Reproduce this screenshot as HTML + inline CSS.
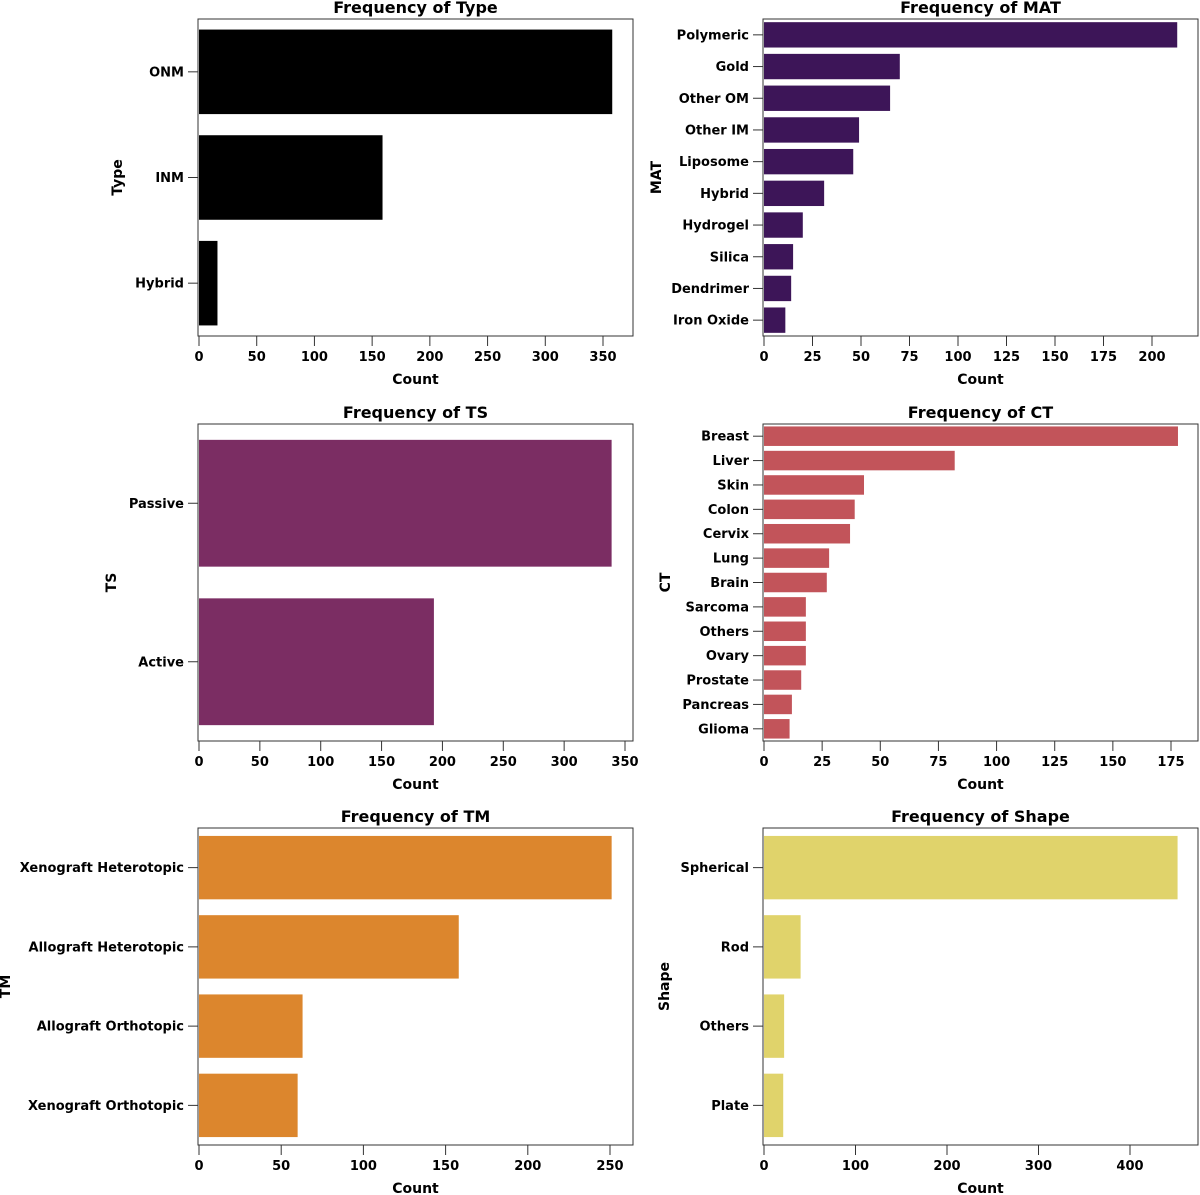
<!DOCTYPE html>
<html><head><meta charset="utf-8"><style>
body{margin:0;background:#fff}
svg{display:block;font-family:"DejaVu Sans","Liberation Sans",sans-serif}
.tick{font-size:13px;font-weight:bold;fill:#000}
.title{font-size:16px;font-weight:bold}
.lab{font-size:14px;font-weight:bold}
</style></head><body>
<svg id="chart" width="1200" height="1195" viewBox="0 0 1200 1195" xmlns="http://www.w3.org/2000/svg"></svg>
<script>
const typeCats=["ONM","INM","Hybrid"];
const typeVals=[358,159,16];
const typeTicks=[0,50,100,150,200,250,300,350];
const matCats=["Polymeric","Gold","Other OM","Other IM","Liposome","Hybrid","Hydrogel","Silica","Dendrimer","Iron Oxide"];
const matVals=[213,70,65,49,46,31,20,15,14,11];
const matTicks=[0,25,50,75,100,125,150,175,200];
const tsCats=["Passive","Active"];
const tsVals=[339,193];
const tsTicks=[0,50,100,150,200,250,300,350];
const ctCats=["Breast","Liver","Skin","Colon","Cervix","Lung","Brain","Sarcoma","Others","Ovary","Prostate","Pancreas","Glioma"];
const ctVals=[178,82,43,39,37,28,27,18,18,18,16,12,11];
const ctTicks=[0,25,50,75,100,125,150,175];
const tmCats=["Xenograft Heterotopic","Allograft Heterotopic","Allograft Orthotopic","Xenograft Orthotopic"];
const tmVals=[251,158,63,60];
const tmTicks=[0,50,100,150,200,250];
const shapeCats=["Spherical","Rod","Others","Plate"];
const shapeVals=[452,40,22,21];
const shapeTicks=[0,100,200,300,400];

const NS="http://www.w3.org/2000/svg";
const svg=document.getElementById('chart');
function el(tag,attrs,parent){const e=document.createElementNS(NS,tag);for(const k in attrs)e.setAttribute(k,attrs[k]);(parent||svg).appendChild(e);return e;}

function panel(key,title,ylabel,cats,vals,ticks,x0,x1,y0,y1,pxPerUnit,color,ylabX){
  const g=el('g',{});
  
  
  const xs=v=>x0+1+v*pxPerUnit;
  const band=(y1-y0)/cats.length;
  cats.forEach((c,i)=>{
    const cy=y0+band*(i+0.5);
    const r=el('rect',{x:xs(0),y:cy-band*0.4,width:xs(vals[i])-xs(0),height:band*0.8,fill:color},g);
    
    
    el('line',{x1:x0-10,x2:x0,y1:cy,y2:cy,stroke:'#333','stroke-width':1},g);
    const t=el('text',{x:x0-14,y:cy+4.5,'text-anchor':'end',class:'tick'},g);t.textContent=c;
    
    
  });
  ticks.forEach(v=>{
    const x=xs(v);
    el('line',{x1:x,x2:x,y1:y1,y2:y1+10,stroke:'#333','stroke-width':1},g);
    const t=el('text',{x:x,y:y1+25,'text-anchor':'middle',class:'tick'},g);t.textContent=v;
    
    
  });
  el('rect',{x:x0,y:y0,width:x1-x0,height:y1-y0,fill:'none',stroke:'#333','stroke-width':1},g);
  const tt=el('text',{x:(x0+x1)/2,y:y0-6,'text-anchor':'middle',class:'title'},g);tt.textContent=title;
  
  
  const xl=el('text',{x:(x0+x1)/2,y:y1+48,'text-anchor':'middle',class:'lab'},g);xl.textContent='Count';
  
  
  const ym=(y0+y1)/2;
  const yl=el('text',{x:ylabX,y:ym,'text-anchor':'middle',class:'lab',transform:`rotate(-90 ${ylabX} ${ym})`},g);yl.textContent=ylabel;
  
  
}
panel('type','Frequency of Type','Type',typeCats,typeVals,typeTicks,198,633,19,336,404/350,'#000000',122);
panel('mat','Frequency of MAT','MAT',matCats,matVals,matTicks,763,1198,19,336,388/200,'#3d1558',661);
panel('ts','Frequency of TS','TS',tsCats,tsVals,tsTicks,198,633,424,741,426/350,'#7b2d63',116);
panel('ct','Frequency of CT','CT',ctCats,ctVals,ctTicks,763,1198,424,741,407/175,'#c2545a',670);
panel('tm','Frequency of TM','TM',tmCats,tmVals,tmTicks,198,633,828,1145,411/250,'#dc862d',10);
panel('shape','Frequency of Shape','Shape',shapeCats,shapeVals,shapeTicks,763,1198,828,1145,366/400,'#e0d36b',669);
</script>
</body></html>
